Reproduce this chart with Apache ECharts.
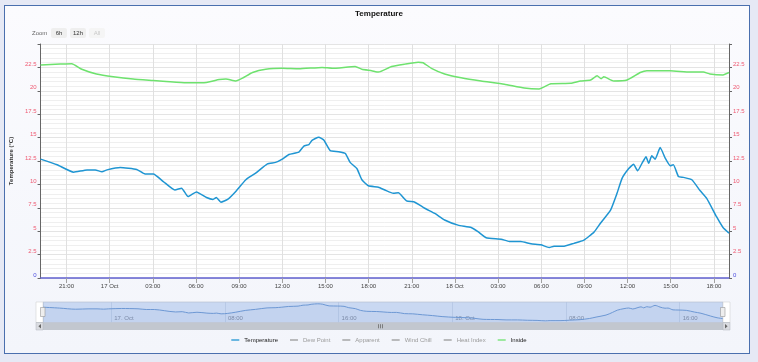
<!DOCTYPE html>
<html>
<head>
<meta charset="utf-8">
<script src="https://cdn.jsdelivr.net/npm/echarts@6/dist/echarts.min.js"></script>
<style>
html,body{margin:0;padding:0;background:#e6e9f5;}
#box{position:absolute;left:4px;top:5px;width:746px;height:349px;box-sizing:border-box;border:1.5px solid #4a6fae;background:linear-gradient(#fbfbfe,#f3f5fb);}
#chart{position:absolute;left:0;top:0;width:758px;height:362px;}
</style>
</head>
<body>
<div id="box"></div>
<div id="chart"></div>
<script>
// ---- data (day hh:mm, October) ----
const tempTimes = ['16 19:12','16 20:21','16 21:30','16 22:26','16 23:00','16 23:28','16 23:49','17 00:44','17 01:53','17 02:28','17 03:02','17 03:44','17 04:32','17 05:00','17 05:27','17 06:02','17 06:44','17 07:11','17 07:25','17 07:44','17 08:12','17 08:46','17 09:28','17 10:09','17 10:58','17 11:32','17 12:00','17 12:28','17 13:09','17 13:30','17 13:51','17 14:04','17 14:32','17 14:53','17 15:20','17 15:55','17 16:23','17 16:43','17 17:11','17 17:32','17 17:59','17 18:41','17 19:08','17 19:43','17 20:04','17 20:38','17 21:13','17 21:54','17 22:36','17 23:17','18 00:13','18 01:08','18 01:36','18 02:10','18 03:13','18 03:47','18 04:35','18 05:17','18 05:58','18 06:33','18 06:53','18 07:35','18 08:16','18 08:58','18 09:40','18 10:07','18 10:49','18 11:16','18 11:37','18 12:05','18 12:25','18 12:42','18 13:00','18 13:17','18 13:28','18 13:41','18 13:55','18 14:16','18 14:37','18 14:58','18 15:11','18 15:32','18 15:53','18 16:28','18 17:02','18 17:30','18 18:11','18 18:38','18 19:03'];
const tempValues = [12.7,12.1,11.3,11.55,11.55,11.35,11.55,11.8,11.6,11.1,11.1,10.3,9.4,9.6,8.7,9.2,8.6,8.4,8.6,8.1,8.4,9.25,10.5,11.2,12.2,12.35,12.7,13.2,13.45,14.1,14.25,14.7,15.05,14.75,13.6,13.5,13.3,12.35,11.7,10.5,9.85,9.7,9.4,9.05,9.1,8.25,8.1,7.45,6.9,6.2,5.65,5.4,4.95,4.3,4.15,3.9,3.9,3.65,3.55,3.25,3.4,3.4,3.7,4.05,4.9,5.85,7.25,9.05,10.65,11.7,12.15,11.45,12.25,12.95,12.25,13.05,12.7,13.95,12.8,12.0,12.1,10.85,10.75,10.5,9.35,8.5,6.55,5.4,4.8];
const insideTimes = ['16 19:12','16 20:34','16 21:22','16 22:04','16 23:05','17 00:15','17 01:38','17 03:01','17 03:56','17 05:19','17 06:28','17 07:37','17 08:05','17 08:46','17 09:14','17 09:56','17 10:51','17 12:00','17 13:09','17 14:46','17 15:28','17 17:04','17 17:32','17 18:13','17 18:41','17 19:36','17 20:31','17 21:27','17 21:47','17 22:22','17 23:17','18 00:26','18 01:49','18 03:26','18 04:49','18 05:51','18 06:40','18 08:02','18 08:44','18 09:26','18 09:53','18 10:10','18 10:21','18 11:02','18 11:58','18 12:53','18 13:21','18 14:58','18 16:20','18 17:16','18 17:43','18 18:38','18 19:03'];
const insideValues = [22.75,22.85,22.9,22.3,21.8,21.5,21.25,21.1,21.0,20.85,20.85,21.2,21.25,21.05,21.35,21.95,22.3,22.4,22.35,22.5,22.4,22.6,22.3,22.15,22.0,22.6,22.85,23.05,23.0,22.4,21.8,21.4,21.05,20.7,20.3,20.2,20.75,20.8,21.05,21.15,21.6,21.3,21.5,21.05,21.15,21.95,22.15,22.15,22.0,22.0,21.8,21.7,21.95];
const rangeStart = '16 19:12';
const rangeEnd = '18 19:03';
const legendNames = ['Temperature','Dew Point','Apparent','Wind Chill','Heat Index','Inside'];
const hiddenNames = ['Dew Point','Apparent','Wind Chill','Heat Index'];
const zoomButtons = ['6h','12h','All'];
const monthName = 'Oct';

// hours since 16 Oct 00:00
function parseT(s){ const p=s.split(' '); const hm=p[1].split(':'); return (Number(p[0])-16)*24 + Number(hm[0]) + Number(hm[1])/60; }
const xMin = parseT(rangeStart), xMax = parseT(rangeEnd);
const tempData = tempTimes.map((t,i)=>[parseT(t), tempValues[i]]);
const insideData = insideTimes.map((t,i)=>[parseT(t), insideValues[i]]);
function pad(n){ return (n<10?'0':'')+n; }
function fmtMain(v){ const r=Math.round(v); const d=16+Math.floor(r/24); const h=r-(d-16)*24; return h===0 ? d+' '+monthName : pad(h)+':00'; }
function fmtNav(v){ const r=Math.round(v); const d=16+Math.floor(r/24); const h=r-(d-16)*24; return h===0 ? d+'. '+monthName : pad(h)+':00'; }
function fmtY(v){ if (v>=25) return ''; if (v===0) return '{z|0}'; return String(v); }

const FONT = '"Liberation Sans", Arial, sans-serif';
const labelRed = '#ef5a72';
const chart = echarts.init(document.getElementById('chart'), null, {renderer:'canvas'});

const selected = {}; hiddenNames.forEach(n=>selected[n]=false);

const yLabel = {fontSize:6, color:labelRed, fontFamily:FONT, verticalAlign:'bottom', formatter:fmtY, rich:{z:{color:'#4b4be0', fontSize:6, fontFamily:FONT}}};

const series = [
  {name:'Temperature', type:'line', xAxisIndex:0, yAxisIndex:0, data:tempData, showSymbol:false, smooth:0.15, color:'#1f95d2', lineStyle:{width:1.5, color:'#1f95d2'}, z:3},
];
hiddenNames.forEach(n=>series.push({name:n, type:'line', xAxisIndex:0, yAxisIndex:0, data:[], showSymbol:false, color:'#666'}));
series.push({name:'Inside', type:'line', xAxisIndex:0, yAxisIndex:0, data:insideData, showSymbol:false, smooth:0.15, color:'#6ee26e', lineStyle:{width:1.5, color:'#6ee26e'}, z:3});
series.push({name:'nav', type:'line', xAxisIndex:1, yAxisIndex:2, data:tempData, showSymbol:false, smooth:0.3, silent:true, lineStyle:{width:1, color:'#6d98d4'}, areaStyle:{color:'rgba(90,135,205,0.08)'}});

const btnGraphics = [];
btnGraphics.push({type:'text', left:32, top:30, style:{text:'Zoom', fontSize:6, fill:'#666', fontFamily:FONT}, z:100});
zoomButtons.forEach((b,i)=>{
  const x = 51 + i*19;
  btnGraphics.push({type:'rect', shape:{x:x, y:28, width:16, height:10, r:2}, style:{fill: i===2?'#f5f5f5':'#efefef'}, z:100});
  btnGraphics.push({type:'text', x:x+8, y:33, style:{text:b, fontSize:6, fill: i===2?'#c8c8c8':'#333', fontFamily:FONT, align:'center', verticalAlign:'middle'}, z:101});
});

const navGraphics = [
  {type:'rect', shape:{x:36, y:302, width:7, height:20.5}, style:{fill:'#ffffff', stroke:'#c8c8c8', lineWidth:0.5}, z:100},
  {type:'rect', shape:{x:723, y:302, width:7, height:20.5}, style:{fill:'#ffffff', stroke:'#c8c8c8', lineWidth:0.5}, z:100},
  {type:'rect', shape:{x:36, y:322.5, width:694, height:7.5}, style:{fill:'#c2c7cf'}, z:100},
  {type:'rect', shape:{x:36, y:322.5, width:7, height:7.5}, style:{fill:'#dadce1', stroke:'#b3b7bd', lineWidth:0.5}, z:101},
  {type:'rect', shape:{x:723, y:322.5, width:7, height:7.5}, style:{fill:'#dadce1', stroke:'#b3b7bd', lineWidth:0.5}, z:101},
  {type:'polygon', shape:{points:[[41,324],[41,328.4],[38.4,326.2]]}, style:{fill:'#666'}, z:102},
  {type:'polygon', shape:{points:[[725,324],[725,328.4],[727.6,326.2]]}, style:{fill:'#666'}, z:102},
  {type:'line', shape:{x1:378.5, y1:324.2, x2:378.5, y2:328.3}, style:{stroke:'#6a6a6a', lineWidth:0.8}, z:102},
  {type:'line', shape:{x1:380.5, y1:324.2, x2:380.5, y2:328.3}, style:{stroke:'#6a6a6a', lineWidth:0.8}, z:102},
  {type:'line', shape:{x1:382.5, y1:324.2, x2:382.5, y2:328.3}, style:{stroke:'#6a6a6a', lineWidth:0.8}, z:102},
  {type:'rect', shape:{x:40.5, y:307.5, width:4.5, height:9}, style:{fill:'#eeeeee', stroke:'#999', lineWidth:0.6}, z:103},
  {type:'rect', shape:{x:720.5, y:307.5, width:4.5, height:9}, style:{fill:'#eeeeee', stroke:'#999', lineWidth:0.6}, z:103}
];

chart.setOption({
  backgroundColor:'transparent',
  animation:false,
  textStyle:{fontFamily:FONT},
  title:{text:'Temperature', left:'center', top:5, textStyle:{fontSize:8, fontWeight:'bold', color:'#111', fontFamily:FONT}},
  legend:{data:legendNames, selected:selected, left:'center', top:332, icon:'rect', itemWidth:8, itemHeight:1.3, itemGap:12,
    textStyle:{fontSize:6, color:'#222', fontFamily:FONT}, inactiveColor:'#9a9a9a'},
  grid:[
    {left:37, right:29, top:44, height:234, show:true, backgroundColor:'#ffffff', borderWidth:0},
    {left:43, right:35, top:302, height:20.5, show:true, backgroundColor:'#c9d8f2', borderColor:'#b3bccb', borderWidth:0.6}
  ],
  xAxis:[
    {type:'value', gridIndex:0, min:xMin, max:xMax, minInterval:3, maxInterval:3, splitNumber:16,
      axisLine:{show:true, onZero:false, lineStyle:{color:'#6060d0', width:1.5}},
      axisTick:{show:true, length:5, lineStyle:{color:'#a0a0a0'}},
      axisLabel:{fontSize:6, color:'#444', margin:5, showMinLabel:false, showMaxLabel:false, formatter:fmtMain, fontFamily:FONT},
      splitLine:{show:true, lineStyle:{color:'#e0e0e0', width:1}}},
    {type:'value', gridIndex:1, min:xMin, max:xMax, minInterval:8, maxInterval:8, splitNumber:6,
      axisLine:{show:false}, axisTick:{show:false},
      axisLabel:{inside:true, fontSize:6, color:'#7f8ca6', margin:1, align:'left', padding:[0,0,0,3], showMinLabel:false, showMaxLabel:false, formatter:fmtNav, fontFamily:FONT},
      splitLine:{show:true, lineStyle:{color:'#b4c5e2', width:0.8}}}
  ],
  yAxis:[
    {type:'value', gridIndex:0, position:'left', min:0, max:25, interval:2.5,
      name:'Temperature (°C)', nameLocation:'middle', nameRotate:90, nameGap:21,
      nameTextStyle:{fontSize:6, fontWeight:'bold', color:'#333', fontFamily:FONT},
      axisLine:{show:true, lineStyle:{color:'#666', width:1}},
      axisTick:{show:true, length:3, lineStyle:{color:'#666'}},
      axisLabel:Object.assign({margin:4}, yLabel),
      splitLine:{show:true, lineStyle:{color:'#e4e4e4'}},
      minorTick:{show:false, splitNumber:5},
      minorSplitLine:{show:true, lineStyle:{color:'#efefef'}}},
    {type:'value', gridIndex:0, position:'right', min:0, max:25, interval:2.5,
      axisLine:{show:true, lineStyle:{color:'#666', width:1}},
      axisTick:{show:true, length:3, lineStyle:{color:'#666'}},
      axisLabel:Object.assign({margin:4}, yLabel),
      splitLine:{show:false}},
    {type:'value', gridIndex:1, min:2.1, max:16.3, show:false, splitLine:{show:false}}
  ],
  series:series,
  graphic:btnGraphics.concat(navGraphics)
});
</script>
</body>
</html>
